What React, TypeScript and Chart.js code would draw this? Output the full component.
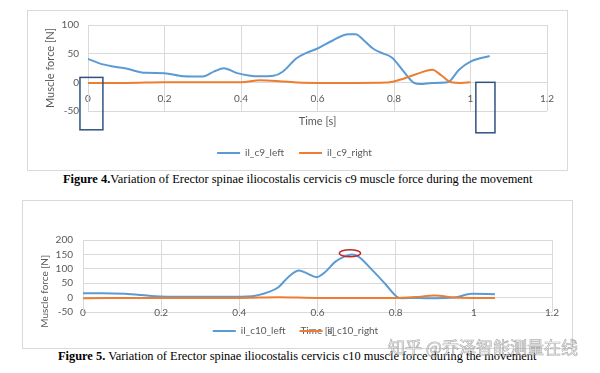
import React, { useEffect, useRef } from "react";
import { Chart, registerables } from "chart.js";
Chart.register(...registerables);

// ---------- data ----------
const xTicks = [0, 0.2, 0.4, 0.6, 0.8, 1.0, 1.2];

// Figure 4 (c9)
const c9YTicks = [-50, 0, 50, 100];
const c9LeftTime = [0, 0.03, 0.066, 0.1, 0.15, 0.2, 0.25, 0.3, 0.33, 0.355, 0.39, 0.42, 0.45, 0.485, 0.51, 0.545, 0.57, 0.6, 0.64, 0.68, 0.7, 0.72, 0.745, 0.765, 0.795, 0.825, 0.85, 0.87, 0.9, 0.94, 0.97, 1.0, 1.05];
const c9LeftForce = [41, 33, 27.6, 24, 16.5, 16, 10.5, 10, 19, 24.5, 16, 12, 10.5, 11.5, 19, 42, 51, 59, 73, 84, 84, 74, 59, 52, 43, 19, 0, -3, -1, 0, 22, 36, 46];
const c9RightTime = [0, 0.1, 0.2, 0.3, 0.4, 0.45, 0.5, 0.55, 0.6, 0.7, 0.78, 0.815, 0.84, 0.87, 0.9, 0.925, 0.95, 0.975, 1.0];
const c9RightForce = [-1, -1, 0, 0, 0, 3.5, 2, -0.5, -1, -1, -0.5, 4.5, 10, 17, 22, 11.5, 0, -1, 0];
// highlight boxes: [xFrom, xTo, yTop, yBottom]
const c9Boxes = [
  [-0.021, 0.039, 8.6, -82.8],
  [1.014, 1.064, 0, -88],
];

// Figure 5 (c10)
const c10YTicks = [-50, 0, 50, 100, 150, 200];
const c10LeftTime = [0, 0.05, 0.107, 0.15, 0.184, 0.25, 0.3, 0.363, 0.432, 0.474, 0.5, 0.525, 0.553, 0.572, 0.598, 0.619, 0.645, 0.67, 0.688, 0.704, 0.739, 0.773, 0.803, 0.815, 0.85, 0.875, 0.9, 0.95, 0.995, 1.054];
const c10LeftForce = [15, 15, 13, 9, 5, 3, 3, 3, 5, 19, 36, 71, 94, 85, 71, 88, 124, 143, 150, 143, 97, 48, 3, -2, -1, -2, -2, 0, 13, 12];
const c10RightTime = [0, 0.2, 0.4, 0.5, 0.6, 0.7, 0.8, 0.85, 0.9, 0.95, 1.0, 1.054];
const c10RightForce = [-2, -1, -1, 1, -1, -1, -1, 2, 7, 0, -1, -1];
// highlight ellipse: [xCenter, yCenter, xRadius, yRadius]
const c10Ellipse = [0.683, 154, 0.027, 12];

const BLUE = "#5b9bd5";
const ORANGE = "#ed7d31";
const GRID = "#d9d9d9";
const TEXT = "#595959";
const FONT = "Lato, 'Open Sans', sans-serif";

const pts = (t: number[], v: number[]) => t.map((x, i) => ({ x, y: v[i] }));

function lineDs(label: string, t: number[], v: number[], color: string, order: number) {
  return {
    label,
    data: pts(t, v),
    borderColor: color,
    backgroundColor: color,
    borderWidth: 2,
    pointRadius: 0,
    cubicInterpolationMode: "monotone",
    order,
  };
}

function makeConfig(opts: any) {
  const { datasets, yTicks, yMin, yMax, pad, yWidth, yTitle, yTitleSize, yTitlePad, xTickPad, yTickPad, xTitleSize, xTitlePad, legendPad, legendTitle, plugins } = opts;
  return {
    type: "line",
    data: { datasets },
    options: {
      animation: false,
      responsive: false,
      parsing: true,
      layout: { padding: pad },
      scales: {
        x: {
          type: "linear",
          position: { y: 0 },
          min: 0,
          max: 1.2,
          afterBuildTicks: (s: any) => { s.ticks = xTicks.map((value) => ({ value })); },
          ticks: {
            autoSkip: false,
            maxRotation: 0,
            padding: xTickPad,
            color: TEXT,
            font: { family: FONT, size: 10 },
            callback: (v: number) => String(Math.round(v * 10) / 10),
          },
          grid: { color: GRID, drawTicks: false },
          border: { color: GRID },
          title: { display: true, text: "Time [s]", color: TEXT, font: { family: FONT, size: xTitleSize }, padding: { top: xTitlePad, bottom: 0 } },
        },
        y: {
          type: "linear",
          position: "left",
          min: yMin,
          max: yMax,
          afterBuildTicks: (s: any) => { s.ticks = yTicks.map((value: number) => ({ value })); },
          afterFit: (s: any) => { s.width = yWidth; },
          ticks: { autoSkip: false, padding: yTickPad, color: TEXT, font: { family: FONT, size: 10 } },
          grid: { color: GRID, drawTicks: false },
          border: { color: GRID },
          title: { display: true, text: yTitle, color: TEXT, font: { family: FONT, size: yTitleSize }, padding: { top: yTitlePad, bottom: 0 } },
        },
      },
      plugins: {
        tooltip: { enabled: false },
        legend: {
          position: "bottom",
          title: legendTitle,
          labels: {
            usePointStyle: true,
            pointStyle: "line",
            pointStyleWidth: 23,
            padding: legendPad,
            color: TEXT,
            font: { family: FONT, size: 10 },
            sort: (a: any, b: any) => a.datasetIndex - b.datasetIndex,
          },
        },
      },
    },
    plugins,
  };
}

const boxesPlugin = {
  id: "c9boxes",
  afterDatasetsDraw(chart: any) {
    const { ctx, scales } = chart;
    const { x, y } = scales;
    ctx.save();
    ctx.strokeStyle = "#2f5283";
    ctx.lineWidth = 1.5;
    c9Boxes.forEach((b) => {
      const x1 = x.getPixelForValue(b[0]);
      const x2 = x.getPixelForValue(b[1]);
      const y1 = y.getPixelForValue(b[2]);
      const y2 = y.getPixelForValue(b[3]);
      ctx.strokeRect(x1, y1, x2 - x1, y2 - y1);
    });
    ctx.restore();
  },
};

const ellipsePlugin = {
  id: "c10ellipse",
  afterDatasetsDraw(chart: any) {
    const { ctx, scales } = chart;
    const { x, y } = scales;
    const [cx, cy, rx, ry] = c10Ellipse;
    const px = x.getPixelForValue(cx);
    const py = y.getPixelForValue(cy);
    const prx = Math.abs(x.getPixelForValue(cx + rx) - px);
    const pry = Math.abs(y.getPixelForValue(cy + ry) - py);
    ctx.save();
    ctx.strokeStyle = "#c0282d";
    ctx.lineWidth = 1.5;
    ctx.beginPath();
    ctx.ellipse(px, py, prx, pry, 0, 0, Math.PI * 2);
    ctx.stroke();
    ctx.restore();
  },
};

function ChartCanvas({ config, left, top, width, height }: any) {
  const ref = useRef<HTMLCanvasElement>(null);
  useEffect(() => {
    const chart = new Chart(ref.current as HTMLCanvasElement, config);
    return () => chart.destroy();
  }, []);
  return (
    <canvas ref={ref} width={width} height={height} style={{ position: "absolute", left, top, width, height }} />
  );
}

const config1 = makeConfig({
  datasets: [
    lineDs("il_c9_left", c9LeftTime, c9LeftForce, BLUE, 1),
    lineDs("il_c9_right", c9RightTime, c9RightForce, ORANGE, 0),
  ],
  yTicks: c9YTicks, yMin: -50, yMax: 100,
  pad: { left: 15, top: 13, right: 21, bottom: 3 },
  yWidth: 46, yTitle: "Muscle force [N]", yTitleSize: 11, yTitlePad: 1.4,
  xTickPad: 10, yTickPad: 9, xTitleSize: 11, xTitlePad: 0.4,
  legendPad: 15,
  legendTitle: { display: true, text: " ", font: { size: 10 }, padding: { top: 10, bottom: 0 } },
  plugins: [boxesPlugin],
});

const config2 = makeConfig({
  datasets: [
    lineDs("il_c10_left", c10LeftTime, c10LeftForce, BLUE, 1),
    lineDs("il_c10_right", c10RightTime, c10RightForce, ORANGE, 0),
  ],
  yTicks: c10YTicks, yMin: -50, yMax: 200,
  pad: { left: 17, top: 40, right: 21, bottom: 3 },
  yWidth: 44, yTitle: "Muscle force [N]            ", yTitleSize: 10, yTitlePad: 0,
  xTickPad: 9, yTickPad: 10, xTitleSize: 10, xTitlePad: -3,
  legendPad: 14,
  legendTitle: { display: false },
  plugins: [ellipsePlugin],
});

const captionStyle: any = {
  position: "absolute",
  fontFamily: "'Liberation Serif', 'Times New Roman', serif",
  fontSize: 12.4,
  color: "#000",
  whiteSpace: "nowrap",
  lineHeight: "15px",
};

export default function App() {
  return (
    <div style={{ position: "absolute", left: 0, top: 0, width: 600, height: 373, background: "#fff", overflow: "hidden" }}>
      <div style={{ position: "absolute", left: 27, top: 10, width: 541, height: 161, boxSizing: "border-box", border: "1px solid #d9d9d9" }} />
      <ChartCanvas config={config1} left={27} top={10} width={541} height={161} />
      <div style={{ ...captionStyle, left: 63, top: 172 }}>
        <b>Figure 4.</b>Variation of Erector spinae iliocostalis cervicis c9 muscle force during the movement
      </div>

      <div style={{ position: "absolute", left: 22, top: 200, width: 551, height: 149, boxSizing: "border-box", border: "1px solid #d9d9d9" }} />
      <ChartCanvas config={config2} left={22} top={200} width={551} height={149} />
      <div style={{ ...captionStyle, left: 58, top: 349 }}>
        <b>Figure 5.</b> Variation of Erector spinae iliocostalis cervicis c10 muscle force during the movement
      </div>

      <div style={{ position: "absolute", left: 388, top: 336, fontFamily: "'Noto Sans CJK SC', sans-serif", fontSize: 17, lineHeight: "22px", color: "rgba(255,255,255,0.55)", WebkitTextStroke: "0.7px rgba(110,110,110,0.55)", whiteSpace: "nowrap" }}>
        知乎 @乔泽智能测量在线
      </div>
    </div>
  );
}
